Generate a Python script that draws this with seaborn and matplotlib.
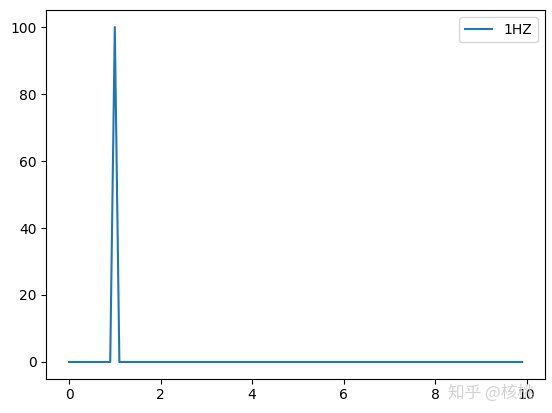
import pandas as pd
import matplotlib
matplotlib.use("Agg")
import matplotlib.pyplot as plt
import seaborn as sns

# spectrum of a 1 Hz signal: zero everywhere except the peak at 1.0
freq = [0.0, 0.9, 1.0, 1.1, 9.9]
amp = [0, 0, 100, 0, 0]

df = pd.DataFrame({"freq": freq, "amp": amp})

fig = plt.figure(figsize=(5.52, 4.13), dpi=100)
ax = fig.add_axes([0.084, 0.083, 0.903, 0.892])
sns.lineplot(x="freq", y="amp", data=df, ax=ax, color="#1f77b4", label="1HZ", sort=False)
ax.set_xlabel("")
ax.set_ylabel("")
ax.set_xticks([0, 2, 4, 6, 8, 10])
ax.set_yticks([0, 20, 40, 60, 80, 100])
ax.legend(loc="upper right")

# watermark
fig.text(0.812, 0.038, "知乎 @核桃", color="#c8c8c8", fontsize=12, alpha=0.8,
         family=["Noto Sans CJK SC", "DejaVu Sans"])
fig.savefig("out.png", dpi=100)
